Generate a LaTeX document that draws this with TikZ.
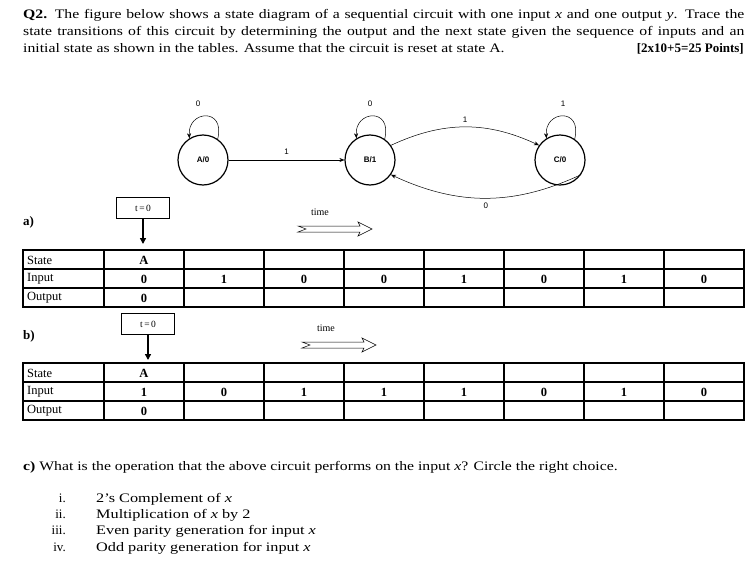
\documentclass[tikz,border=0pt]{standalone}
\usepackage{fontspec}
\setmainfont{Liberation Serif}
\newfontfamily\statefont{Liberation Sans}
\usetikzlibrary{arrows.meta}
\newcommand{\wide}[1]{\scalebox{1.21}[1]{#1}}
\begin{document}
\begin{tikzpicture}[x=1pt,y=-1pt,
  txt/.style={font=\fontsize{13}{14}\selectfont, inner sep=0pt},
  cell/.style={font=\fontsize{12.5}{14}\selectfont, inner sep=0pt},
  bcell/.style={font=\fontsize{12.5}{14}\selectfont\bfseries, inner sep=0pt},
  st/.style={circle, draw, line width=1.2pt, minimum size=50pt, font=\statefont\bfseries\fontsize{8}{9}\selectfont},
  lab/.style={font=\statefont\fontsize{8}{9}\selectfont, inner sep=1pt},
  tr/.style={-{Stealth[length=5pt,width=4pt]}, line width=0.5pt},
  tbox/.style={draw, minimum width=53pt, minimum height=21pt, font=\fontsize{9.5}{10}\selectfont},
  barr/.style={-{Triangle[length=6pt,width=6pt]}, line width=1.3pt}]
\useasboundingbox[fill=white] (0,0) rectangle (756,581);
% title
\node[txt, anchor=base west] (title1) at (23,18) {\wide{\makebox[596pt][s]{\textbf{Q2.} The figure below shows a state diagram of a sequential circuit with one input \textit{x} and one output \textit{y}. Trace the}}};
\node[txt, anchor=base west] (title2) at (23,35) {\wide{\makebox[596pt][s]{state transitions of this circuit by determining the output and the next state given the sequence of inputs and an}}};
\node[txt, anchor=base west] (title3) at (23,52) {\wide{initial state as shown in the tables. Assume that the circuit is reset at state A.}};
\node[txt, anchor=base east] (pts) at (744,52) {\textbf{[2x10+5=25 Points]}};
% states
\node[st] (A) at (203,160) {A/0};
\node[st] (B) at (370,160) {B/1};
\node[st] (C) at (560,160) {C/0};
\draw[tr] (A) -- node[lab, above=4pt] (l1) {1} (B);
\draw[tr] (A.55) .. controls +(8,-32) and +(-2,-28) .. (A.122);
\node[lab] (la) at (198,104) {0};
\draw[tr] (B.55) .. controls +(8,-32) and +(-2,-28) .. (B.122);
\node[lab] (lb) at (370,104) {0};
\draw[tr] (C.55) .. controls +(8,-32) and +(-2,-28) .. (C.122);
\node[lab] (lc) at (563,104) {1};
\draw[tr] (B.35) to[out=25,in=155] node[lab, above=3pt] (l2) {1} (C.145);
\draw[tr] (C.-35) to[out=205,in=-25] node[lab, below=3pt] (l3) {0} (B.-35);
% labels a) b)
\node[txt, font=\fontsize{13}{14}\selectfont\bfseries, anchor=west] (pa1) at (23,222) {a)};
\node[txt, font=\fontsize{13}{14}\selectfont\bfseries, anchor=west] (pb1) at (23,336) {b)};
% t=0 boxes
\node[tbox] (ta) at (143,208) {t\,=\,0};
\coordinate (taend) at (143,244);
\draw[barr] (ta.south) -- (taend);
\node[tbox] (tb) at (148,324) {t\,=\,0};
\coordinate (tbend) at (148,360);
\draw[barr] (tb.south) -- (tbend);
% time arrows
\node[txt, font=\fontsize{10}{11}\selectfont] (tima) at (320,212) {time};
\draw[line width=0.5pt] (298,226) -- (360,226) -- (358,222) -- (372,229) -- (358,236) -- (360,232) -- (298,232) -- (306,229) -- cycle;
\node[txt, font=\fontsize{10}{11}\selectfont] (timb) at (326,328) {time};
\draw[line width=0.5pt] (302,342) -- (364,342) -- (362,338) -- (376,345) -- (362,352) -- (364,348) -- (302,348) -- (310,345) -- cycle;
% tables
\foreach \t/\ins [count=\k] in {250/{0,1,0,0,1,0,1,0}, 363/{1,0,1,1,1,0,1,0}} {
  \draw[line width=1.2pt] (23,\t) rectangle (744,\t+57);
  \draw[line width=1.2pt] (23,\t+19) -- (744,\t+19) (23,\t+38) -- (744,\t+38);
  \foreach \c in {104,184,...,664} \draw[line width=1.2pt] (\c,\t) -- (\c,\t+57);
  \node[cell, anchor=west] (s\k) at (27,\t+10) {State};
  \node[cell, anchor=west] (i\k) at (27,\t+29) {Input};
  \node[cell, anchor=west] (o\k) at (27,\t+48) {Output};
  \node[bcell] (sa\k) at (144,\t+10) {A};
  \node[bcell] (oa\k) at (144,\t+48) {0};
  \foreach \v [count=\j from 0] in \ins
    \node[bcell] (in\k\j) at (144+80*\j,\t+29) {\v};
}
% part c
\node[txt, anchor=base west] (qc) at (23,470) {\wide{\textbf{c)} What is the operation that the above circuit performs on the input \textit{x}? Circle the right choice.}};
\foreach \r/\s [count=\n] in {i./2's Complement of \textit{x}, ii./Multiplication of \textit{x} by 2, iii./Even parity generation for input \textit{x}, iv./Odd parity generation for input \textit{x}} {
  \node[txt, anchor=base east] (r\n) at (66,486+16.3*\n) {\r};
  \node[txt, anchor=base west] (c\n) at (96,486+16.3*\n) {\scalebox{1.25}[1]{\s}};
}
\end{tikzpicture}
\end{document}
